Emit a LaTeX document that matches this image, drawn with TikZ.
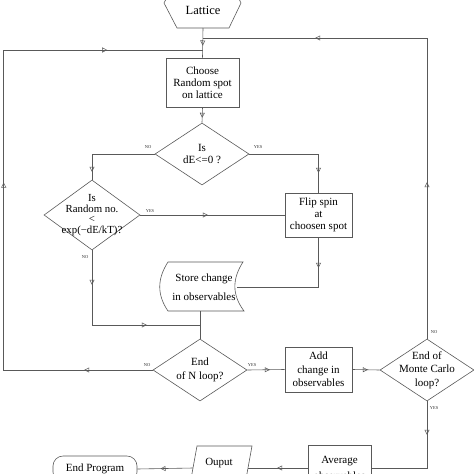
\documentclass[tikz,border=0pt]{standalone}
\usepackage{fontspec}
\setmainfont{Liberation Serif}
\usetikzlibrary{shapes.geometric,arrows.meta,decorations.markings}
\tikzset{
  line/.style={draw=black!65, line width=0.6pt},
  shp/.style={draw=black!65, line width=0.6pt},
  box/.style={shp, rectangle, inner sep=0pt, align=center, font=\fontsize{11}{12}\selectfont},
  dia/.style={shp, diamond, inner sep=0pt, minimum width=94pt, minimum height=62pt},
  txt/.style={align=center, font=\fontsize{11}{12}\selectfont, inner sep=0pt},
  yn/.style={font=\fontsize{4.5}{5}\selectfont, inner sep=0pt, text=black!80},
  am/.style={postaction={decorate, decoration={markings, mark=at position #1 with {\arrow[black!65]{Triangle[open,length=5pt,width=5pt,line width=0.5pt]}}}}},
}
\begin{document}
\begin{tikzpicture}[x=1pt,y=-1pt]
\useasboundingbox (0,0) rectangle (474,474);
\clip (0,0) rectangle (474,474);
% Lattice hexagon
\draw[shp] (164,3) -- (177,28) -- (229,28) -- (241,3) -- (229,-22) -- (177,-22) -- cycle;
\node[txt, font=\fontsize{12.5}{13}\selectfont] (lattice) at (203,10) {Lattice};
\coordinate (latb) at (203,28);
\node[box, minimum width=73pt, minimum height=49pt] (choose) at (202.5,82.5) {Choose\\Random spot\\on lattice};
\coordinate (jl) at (202.5,50);
\coordinate (jr) at (202.5,38);
\node[dia, label={[txt]center:{Is\\dE<=0 ?}}] (d1) at (202,154) {};
\node[dia, minimum width=96pt, minimum height=70pt, label={[txt, font=\fontsize{10.8}{10.7}\selectfont]center:{Is\\Random no.\\<\\exp(−dE/kT)?}}] (d2) at (92,215) {};
\node[box, minimum width=67pt, minimum height=44pt] (flip) at (318.5,215) {Flip spin\\at\\choosen spot};
% Store shape
\draw[shp] (168,262) -- (243,262) .. controls (232,279) and (232,295) .. (244,311) -- (168,311) .. controls (157,295) and (157,279) .. (168,262) -- cycle;
\node[txt, font=\fontsize{11}{19}\selectfont] (store) at (204,287) {Store change\\in observables};
\coordinate (storee) at (237,287);
\coordinate (stores) at (200,311);
\coordinate (jn) at (200,325);
\node[dia, label={[txt, font=\fontsize{11}{14}\selectfont]center:{End\\of N loop?}}] (d3) at (200,370) {};
\node[box, minimum width=67pt, minimum height=45pt, font=\fontsize{11}{13.5}\selectfont] (add) at (318.5,369.5) {Add\\change in\\observables};
\node[dia, label={[txt, font=\fontsize{11}{13.5}\selectfont]center:{End of\\Monte Carlo\\loop?}}] (mc) at (427,370) {};
\node[box, minimum width=63pt, minimum height=46pt, font=\fontsize{11}{16}\selectfont] (avg) at (339.5,468) {Average\\observables};
% Output parallelogram
\draw[shp] (197,446) -- (252,446) -- (244,490) -- (189,490) -- cycle;
\node[txt] (out) at (219,463) {Ouput};
\coordinate (oute) at (248,468);
\coordinate (outw) at (193,468);
\node[shp, rectangle, rounded corners=10pt, minimum width=84pt, minimum height=26pt, inner sep=0pt, font=\fontsize{11}{12}\selectfont] (endp) at (95,469) {End Program};
% connectors
\draw[line, am=17.5pt] (latb) -- (choose.north);
\draw[line, am=156.5pt, am=412.5pt] (mc.north) -- (mc.north |- jr) -- (jr);
\draw[line, am=68.5pt, am=336.5pt, am=572.5pt] (d3.west) -- ++(-149,0) |- (jl);
\draw[line, am=10.5pt] (choose.south) -- (d1.north);
\draw[line, am=80.5pt] (d1.west) -| (d2.north);
\draw[line, am=88pt] (d1.east) -| (flip.north);
\draw[line, am=67.5pt] (d2.east) -- (flip.west);
\draw[line, am=34.5pt, am=129.5pt] (d2.south) |- (jn);
\draw[line, am=30.5pt] (flip.south) |- (storee);
\draw[line] (stores) -- (d3.north);
\draw[line, am=22.5pt] (d3.east) -- (add.west);
\draw[line, am=15.5pt] (add.east) -- (mc.west);
\draw[line, am=33.5pt] (mc.south) |- (avg.east);
\draw[line, am=30.5pt] (avg.west) -- (oute);
\draw[line, am=32.5pt] (outw) -- (endp.east);
% yes/no labels
\node[yn] (n1) at (148,147) {NO};
\node[yn] (y1) at (258,147) {YES};
\node[yn] (y2) at (150,211) {YES};
\node[yn] (n2) at (85,257) {NO};
\node[yn] (n3) at (147,365) {NO};
\node[yn] (y3) at (252,365) {YES};
\node[yn] (n4) at (434,332) {NO};
\node[yn] (y4) at (434,408) {YES};
\end{tikzpicture}
\end{document}
